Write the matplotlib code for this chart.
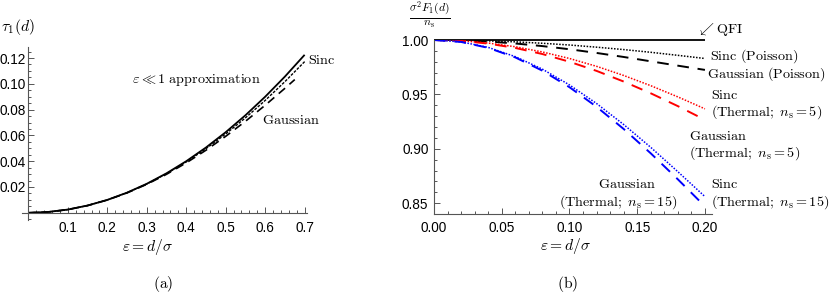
import matplotlib
matplotlib.use("Agg")
import matplotlib.pyplot as plt
from matplotlib.ticker import MultipleLocator, FixedLocator

plt.rcParams['mathtext.fontset'] = 'cm'
plt.rcParams['font.family'] = ['Liberation Sans', 'DejaVu Sans']

# ---------------- data: panel (a) ----------------
eps_a = [0.0, 0.05, 0.10, 0.15, 0.20, 0.25, 0.30, 0.35, 0.40, 0.45, 0.50, 0.55, 0.60, 0.65, 0.70]
tau_approx = [0.0, 0.000625, 0.0025, 0.005625, 0.01, 0.015625, 0.0225, 0.030625, 0.04,
              0.050625, 0.0625, 0.075625, 0.09, 0.105625, 0.1225]
tau_sinc = [0.0, 0.000625, 0.0025, 0.005614, 0.009965, 0.015539, 0.022322, 0.030295, 0.03944,
            0.049725, 0.061125, 0.073612, 0.08715, 0.101697, 0.11722]
eps_a_gauss = [0.0, 0.05, 0.10, 0.15, 0.20, 0.25, 0.30, 0.35, 0.40, 0.45, 0.50, 0.55, 0.60, 0.65, 0.675]
tau_gauss = [0.0, 0.000625, 0.002495, 0.005599, 0.009918, 0.015426, 0.022087, 0.02986, 0.038694,
             0.048534, 0.059312, 0.070958, 0.08339, 0.096521, 0.1033]
xticks_a = [0.1, 0.2, 0.3, 0.4, 0.5, 0.6, 0.7]
yticks_a = [0.02, 0.04, 0.06, 0.08, 0.10, 0.12]

# ---------------- data: panel (b) ----------------
eps_b = [0.0, 0.02, 0.04, 0.06, 0.08, 0.10, 0.12, 0.14, 0.16, 0.18, 0.20]
qfi = [1.0] * 11
sinc_poisson = [1.0, 0.9998, 0.9992, 0.9983, 0.9970, 0.9954, 0.9934, 0.9912, 0.9887, 0.9859, 0.9830]
gauss_poisson = [1.0, 0.9996, 0.9986, 0.9968, 0.9944, 0.9915, 0.9881, 0.9844, 0.9804, 0.9764, 0.9725]
sinc_th5 = [1.0, 0.9993, 0.9972, 0.9938, 0.9890, 0.9830, 0.9758, 0.9674, 0.9580, 0.9477, 0.9367]
gauss_th5 = [1.0, 0.9992, 0.9967, 0.9927, 0.9871, 0.9800, 0.9716, 0.9618, 0.9510, 0.9392, 0.9266]
sinc_th15 = [1.0, 0.9983, 0.9932, 0.9847, 0.9732, 0.9587, 0.9416, 0.9223, 0.9013, 0.8789, 0.8560]
gauss_th15 = [1.0, 0.9982, 0.9928, 0.9840, 0.9718, 0.9566, 0.9386, 0.9182, 0.8958, 0.8719, 0.8470]
xticks_b = [0.00, 0.05, 0.10, 0.15, 0.20]
yticks_b = [0.85, 0.90, 0.95, 1.00]

W, H = 831, 293
fig = plt.figure(figsize=(W / 100, H / 100), dpi=100)

def fx(x):
    return x / W

def fy(y):
    return 1 - y / H

axcol = '#555555'
tick_fs = 9.8
lab_fs = 10.2
big_fs = 11.2

# ---------------- panel (a) ----------------
axa = fig.add_axes([fx(21.7), fy(220), fx(307) - fx(21.7), fy(46.7) - fy(220)])
axa.plot(eps_a, tau_approx, color='black', lw=1.3, solid_capstyle='butt')
axa.plot(eps_a, tau_sinc, color='black', lw=1.0, dashes=(2.0, 1.0))
axa.plot(eps_a_gauss, tau_gauss, color='black', lw=1.2, dashes=(5, 3.5))
axa.set_xlim(-0.017, 0.706)
axa.set_ylim(-0.0056, 0.1288)
for s in ['top', 'right']:
    axa.spines[s].set_visible(False)
axa.spines['left'].set_position(('data', 0))
axa.spines['bottom'].set_position(('data', 0))
for s in ['left', 'bottom']:
    axa.spines[s].set_color(axcol)
    axa.spines[s].set_linewidth(0.8)
axa.xaxis.set_major_locator(FixedLocator(xticks_a))
axa.yaxis.set_major_locator(FixedLocator(yticks_a))
axa.xaxis.set_minor_locator(MultipleLocator(0.02))
axa.yaxis.set_minor_locator(MultipleLocator(0.005))
axa.set_xticklabels(['%.1f' % v for v in xticks_a])
axa.set_yticklabels(['%.2f' % v for v in yticks_a])
axa.tick_params(which='both', direction='in', color=axcol, width=0.7, labelsize=tick_fs)
axa.tick_params(which='major', length=4)
axa.tick_params(which='minor', length=2.2)
axa.tick_params(axis='x', which='major', pad=6)
axa.tick_params(axis='y', which='major', pad=2)

fig.text(fx(18), fy(27), r'$\tau_1(d)$', fontsize=big_fs, ha='center', va='center')
fig.text(fx(148), fy(247), r'$\varepsilon = d/\sigma$', fontsize=big_fs, ha='center', va='center')
fig.text(fx(163), fy(284), r'$\mathrm{(a)}$', fontsize=big_fs, ha='center', va='center')
fig.text(fx(196), fy(80), r'$\varepsilon \ll 1\ \mathrm{approximation}$', fontsize=lab_fs,
         ha='center', va='center')
fig.text(fx(308), fy(60), r'$\mathrm{Sinc}$', fontsize=lab_fs, ha='left', va='center')
fig.text(fx(262), fy(120), r'$\mathrm{Gaussian}$', fontsize=lab_fs, ha='left', va='center')

# ---------------- panel (b) ----------------
axb = fig.add_axes([fx(434), fy(214), fx(711.7) - fx(434), fy(40) - fy(214)])
axb.plot(eps_b, qfi, color='black', lw=1.3, clip_on=False, solid_capstyle='butt')
axb.plot(eps_b, sinc_poisson, color='black', lw=1.1, dashes=(1.0, 1.0))
axb.plot(eps_b, gauss_poisson, color='black', lw=1.4, dashes=(6, 4.5))
axb.plot(eps_b, sinc_th5, color='#ff0000', lw=1.1, dashes=(1.0, 1.0))
axb.plot(eps_b, gauss_th5, color='#ff0000', lw=1.4, dashes=(6, 4.5))
axb.plot(eps_b, sinc_th15, color='#0000ff', lw=1.1, dashes=(1.0, 1.0))
axb.plot(eps_b, gauss_th15, color='#0000ff', lw=1.4, dashes=(6, 4.5))
axb.set_xlim(0.0, 0.205)
axb.set_ylim(0.84, 1.0)
for s in ['top', 'right']:
    axb.spines[s].set_visible(False)
for s in ['left', 'bottom']:
    axb.spines[s].set_color(axcol)
    axb.spines[s].set_linewidth(0.8)
axb.xaxis.set_major_locator(FixedLocator(xticks_b))
axb.yaxis.set_major_locator(FixedLocator(yticks_b))
axb.xaxis.set_minor_locator(MultipleLocator(0.01))
axb.yaxis.set_minor_locator(MultipleLocator(0.01))
axb.set_xticklabels(['%.2f' % v for v in xticks_b])
axb.set_yticklabels(['%.2f' % v for v in yticks_b])
axb.tick_params(which='both', direction='in', color=axcol, width=0.7, labelsize=tick_fs)
axb.tick_params(which='major', length=4)
axb.tick_params(which='minor', length=2.2)
axb.tick_params(axis='x', which='major', pad=5)
axb.tick_params(axis='y', which='major', pad=4)

fig.text(fx(430), fy(15), r'$\frac{\sigma^2 F_1(d)}{n_\mathrm{s}}$', fontsize=12,
         ha='center', va='center')
fig.text(fx(566), fy(246), r'$\varepsilon = d/\sigma$', fontsize=big_fs, ha='center', va='center')
fig.text(fx(568), fy(284), r'$\mathrm{(b)}$', fontsize=big_fs, ha='center', va='center')

fig.text(fx(697), fy(29), r'$\swarrow\mathrm{QFI}$', fontsize=lab_fs, ha='left', va='center')
fig.text(fx(710), fy(56), r'$\mathrm{Sinc\ (Poisson)}$', fontsize=lab_fs, ha='left', va='center')
fig.text(fx(707), fy(74), r'$\mathrm{Gaussian\ (Poisson)}$', fontsize=lab_fs, ha='left', va='center')
fig.text(fx(711), fy(95), r'$\mathrm{Sinc}$', fontsize=lab_fs, ha='left', va='center')
fig.text(fx(711), fy(112), r'$\mathrm{(Thermal;}\ n_\mathrm{s}=5\mathrm{)}$', fontsize=lab_fs,
         ha='left', va='center')
fig.text(fx(689), fy(136), r'$\mathrm{Gaussian}$', fontsize=lab_fs, ha='left', va='center')
fig.text(fx(689), fy(153), r'$\mathrm{(Thermal;}\ n_\mathrm{s}=5\mathrm{)}$', fontsize=lab_fs,
         ha='left', va='center')
fig.text(fx(627), fy(184), r'$\mathrm{Gaussian}$', fontsize=lab_fs, ha='center', va='center')
fig.text(fx(618), fy(202), r'$\mathrm{(Thermal;}\ n_\mathrm{s}=15\mathrm{)}$', fontsize=lab_fs,
         ha='center', va='center')
fig.text(fx(711), fy(184), r'$\mathrm{Sinc}$', fontsize=lab_fs, ha='left', va='center')
fig.text(fx(711), fy(202), r'$\mathrm{(Thermal;}\ n_\mathrm{s}=15\mathrm{)}$', fontsize=lab_fs,
         ha='left', va='center')

fig.savefig('out.png', dpi=100)
